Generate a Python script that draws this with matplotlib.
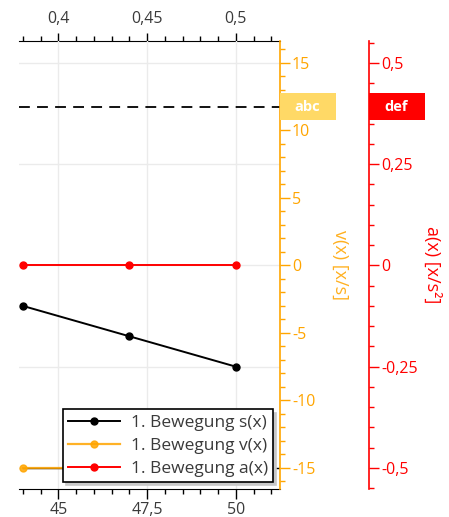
import numpy as np
import matplotlib.pyplot as plt
from matplotlib.ticker import MultipleLocator, FixedLocator, FuncFormatter
from matplotlib.patches import Rectangle
from matplotlib.transforms import blended_transform_factory

plt.rcParams['font.family'] = ['Open Sans', 'DejaVu Sans']

# data
x = [44, 47, 50]
s_vals = [-3.0, -5.25, -7.5]
v_vals = [-15, -15, -15]
a_vals = [0, 0, 0]
ref_x = [44, 52]
ref_vals = [-15, -15]
limit_v = 11.75
top_ticks = [0.4, 0.45, 0.5]
legend_labels = ['1. Bewegung s(x)', '1. Bewegung v(x)', '1. Bewegung a(x)']
box_labels = ['abc', 'def']

ORANGE = '#FFA500'
RED = '#FF0000'
TXT = '#3a3a3a'

comma = FuncFormatter(lambda v, p: '{:g}'.format(round(v, 6)).replace('.', ','))

fig = plt.figure(figsize=(4.49, 5.17), dpi=100)
ax = fig.add_axes([0.0423, 0.0532, 0.5802, 0.8681])
ax_v = ax.twinx()
ax_a = ax.twinx()
ax_a.spines['right'].set_position(('outward', 89 * 0.72))

ylim = (-16.6, 16.65)
ax.set_xlim(43.89, 51.23)
ax.set_ylim(*ylim)
ax_v.set_ylim(*ylim)
ax_a.set_ylim(ylim[0] / 30, ylim[1] / 30)

# main axis (hidden y)
ax.spines['left'].set_visible(False)
ax.spines['right'].set_visible(False)
ax.spines['top'].set_visible(False)
ax.tick_params(axis='y', which='both', left=False, labelleft=False)
ax.yaxis.set_major_locator(MultipleLocator(7.5))
ax.xaxis.set_major_locator(MultipleLocator(2.5))
ax.xaxis.set_minor_locator(MultipleLocator(0.5))
ax.xaxis.set_major_formatter(comma)
ax.tick_params(axis='x', which='major', direction='out', length=7, width=1,
               pad=2, labelsize=11.5, labelcolor=TXT)
ax.tick_params(axis='x', which='minor', direction='out', length=3.5, width=1)
ax.grid(True, which='major', color='#ebebeb', linewidth=1)
ax.set_axisbelow(True)

top = ax.secondary_xaxis('top', functions=(lambda b: 0.4 + (b - 45) * 0.02,
                                           lambda t: 45 + (t - 0.4) / 0.02))
top.xaxis.set_major_locator(FixedLocator(top_ticks))
top.xaxis.set_minor_locator(MultipleLocator(0.01))
top.xaxis.set_major_formatter(comma)
top.tick_params(axis='x', which='major', direction='out', length=6, width=1,
                pad=4, labelsize=11.5, labelcolor=TXT)
top.tick_params(axis='x', which='minor', direction='out', length=3.5, width=1)

for a_, col in ((ax_v, ORANGE), (ax_a, RED)):
    for sp in ('left', 'top', 'bottom'):
        a_.spines[sp].set_visible(False)
    a_.spines['right'].set_color(col)
    a_.spines['right'].set_linewidth(1.2)
    a_.yaxis.set_major_formatter(comma)
    a_.tick_params(axis='y', which='major', colors=col, direction='out',
                   length=7, width=1, pad=2, labelsize=11.5)
    a_.tick_params(axis='y', which='minor', colors=col, direction='out',
                   length=3.5, width=1)

ax_v.yaxis.set_major_locator(MultipleLocator(5))
ax_v.yaxis.set_minor_locator(MultipleLocator(1))
ax_a.yaxis.set_major_locator(MultipleLocator(0.25))
ax_a.yaxis.set_minor_locator(MultipleLocator(0.05))

ax_v.set_ylabel('v(x) [x/s]', color='#FFB020', fontsize=13, rotation=270, va='center')
ax_v.yaxis.set_label_coords(1 + 61 / 260.5, 0.5)
ax_a.set_ylabel('a(x) [x/s²]', color=RED, fontsize=13, rotation=270, va='center')
ax_a.yaxis.set_label_coords(1 + 153 / 260.5, 0.5)

# series
ax.plot(ref_x, ref_vals, color='black', linewidth=1, zorder=2)
ax.axhline(limit_v, color='black', linewidth=1.3, dashes=(6, 4), zorder=2)
l_s, = ax.plot(x, s_vals, color='black', linewidth=1.4, marker='o', markersize=5, zorder=3)
l_v, = ax_v.plot(x, v_vals, color=ORANGE, linewidth=1.6, alpha=0.85,
                 marker='o', markersize=5, markerfacecolor=ORANGE, markeredgecolor=ORANGE)
l_a, = ax_a.plot(x, np.array(a_vals), color=RED, linewidth=1.4, marker='o', markersize=5)

# value boxes at the right axes
tr = blended_transform_factory(ax_v.transAxes, ax_v.transData)
box_h = 2.0
for (x0, col, lab) in ((1.0, '#FFD966', box_labels[0]), (1 + 89 / 260.5, RED, box_labels[1])):
    ax_v.add_patch(Rectangle((x0, limit_v - box_h / 2), 56.5 / 260.5, box_h,
                             transform=tr, facecolor=col, edgecolor='none',
                             clip_on=False, zorder=5))
    ax_v.text(x0 + 28 / 260.5, limit_v, lab, transform=tr, color='white',
              fontsize=10.5, fontweight='bold', ha='center', va='center', zorder=6)

leg = ax_a.legend([l_s, l_v, l_a], legend_labels, loc='lower right',
                  bbox_to_anchor=(0.975, 0.0167), borderaxespad=0, fontsize=12.5,
                  fancybox=False, framealpha=1, edgecolor='black',
                  shadow={'color': '#c8c8c8', 'alpha': 1, 'ox': 2.5, 'oy': -2.5},
                  handlelength=3.0, labelspacing=0.4, borderpad=0.3,
                  handletextpad=0.6, labelcolor=TXT)
leg.get_frame().set_linewidth(1.2)

fig.savefig('out.png', dpi=100)
